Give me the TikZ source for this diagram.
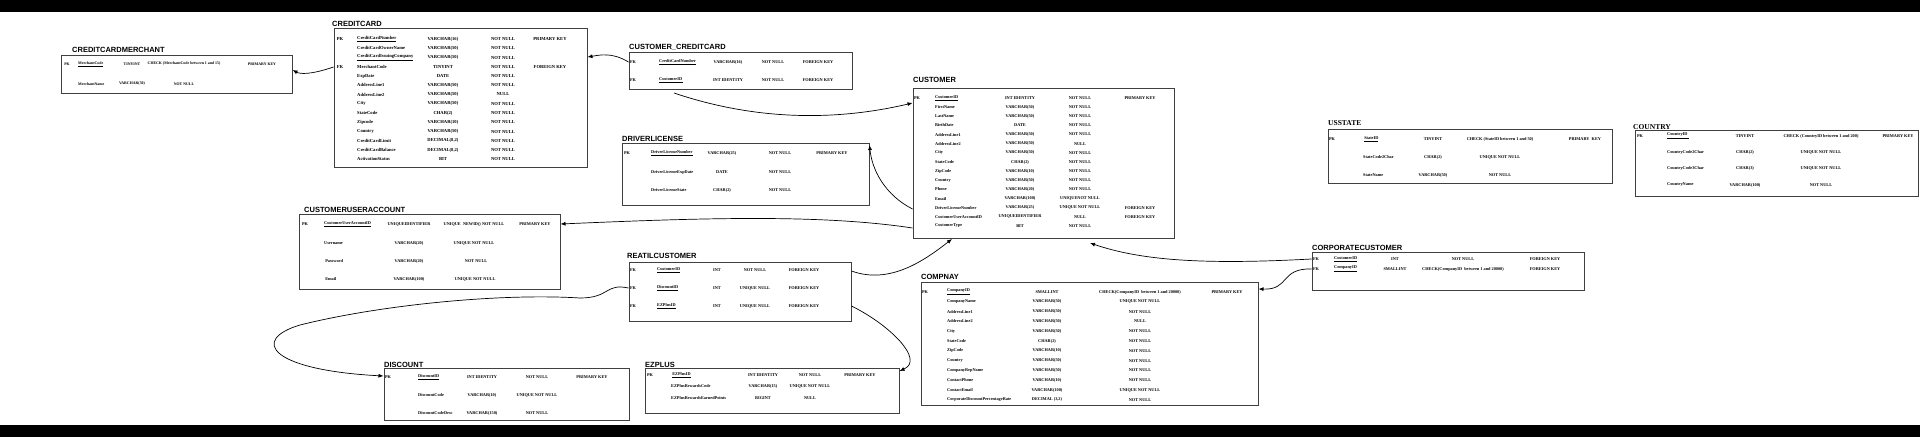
\documentclass[tikz,border=0pt]{standalone}
\usepackage{fontspec}
\setmainfont{Liberation Serif}
\newfontfamily\ttlfont{Liberation Sans}
\usetikzlibrary{arrows.meta,fit}
\tikzset{
  tbl/.style={draw=black!75,line width=1pt,inner sep=0pt},
  cell/.style={inner sep=0pt,font=\fontsize{4.3}{5}\selectfont\bfseries},
  ttl/.style={anchor=south west,inner sep=0pt,font=\ttlfont\fontsize{7.5}{8}\selectfont\bfseries},
  sttl/.style={anchor=south west,inner sep=0pt,font=\fontsize{7.5}{8}\selectfont\bfseries},
  conn/.style={draw=black,line width=0.7pt},
  arr/.style={conn,-{Latex[length=5pt,width=4pt]}}
}
\newcommand\tb[5]{\path (#2,#3) coordinate (#1-nw) (#4,#5) coordinate (#1-se);
  \node[tbl,fit=(#1-nw)(#1-se)] (#1) {};}
\newcommand\row[6]{\node[cell] at (\cA,#1) {#2};\node[cell,anchor=west] at (\cB,#1) {#3};
  \node[cell] at (\cC,#1) {#4};\node[cell] at (\cD,#1) {#5};\node[cell] at (\cE,#1) {#6};}
\newcommand\ul[1]{\underline{#1}}
\begin{document}
\begin{tikzpicture}[x=1pt,y=-1pt]
\useasboundingbox (0,0) rectangle (1920,437);
\fill[black] (0,0) rectangle (1920,437);
\fill[white] (0,12) rectangle (1920,425);

% CREDITCARDMERCHANT
\node[ttl] (tccm) at (72,53) {CREDITCARDMERCHANT};
\tb{ccm}{61}{55}{292}{93}
\def\cA{67}\def\cB{78}\def\cC{132}\def\cD{184}\def\cE{262}
\begin{scope}[cell/.append style={font=\fontsize{3.9}{4}\selectfont\bfseries}]
\row{64}{PK}{\ul{MerchantCode}}{TINYINT}{CHECK (MerchantCode between 1 and 15)}{PRIMARY KEY}
\row{84}{}{MerchantName}{VARCHAR(50)}{NOT NULL}{}
\end{scope}

% CREDITCARD
\node[ttl] (tcc) at (332,27) {CREDITCARD};
\tb{cc}{334}{28}{587}{167}
\def\cA{340}\def\cB{357}\def\cC{443}\def\cD{503}\def\cE{550}
\begin{scope}[cell/.append style={font=\fontsize{4.6}{5}\selectfont\bfseries}]
\row{39}{PK}{\ul{CreditCardNumber}}{VARCHAR(16)}{NOT NULL}{PRIMARY KEY}
\row{48.25}{}{CreditCardOwnerName}{VARCHAR(50)}{NOT NULL}{}
\row{57.5}{}{\ul{CreditCardIssuingCompany}}{VARCHAR(50)}{NOT NULL}{}
\row{66.75}{FK}{MerchantCode}{TINYINT}{NOT NULL}{FOREIGN KEY}
\row{76}{}{ExpDate}{DATE}{NOT NULL}{}
\row{85.25}{}{AddressLine1}{VARCHAR(50)}{NOT NULL}{}
\row{94.5}{}{AddressLine2}{VARCHAR(50)}{NULL}{}
\row{103.75}{}{City}{VARCHAR(50)}{NOT NULL}{}
\row{113}{}{StateCode}{CHAR(2)}{NOT NULL}{}
\row{122.25}{}{Zipcode}{VARCHAR(10)}{NOT NULL}{}
\row{131.5}{}{Country}{VARCHAR(50)}{NOT NULL}{}
\row{140.75}{}{CreditCardLimit}{DECIMAL(8,2)}{NOT NULL}{}
\row{150}{}{CreditCardBalance}{DECIMAL(8,2)}{NOT NULL}{}
\row{159.25}{}{ActivationStatus}{BIT}{NOT NULL}{}
\end{scope}

% CUSTOMER_CREDITCARD
\node[ttl] (tcucc) at (629,51) {CUSTOMER\_CREDITCARD};
\tb{cucc}{629}{52}{852}{89}
\def\cA{633}\def\cB{659}\def\cC{728}\def\cD{773}\def\cE{818}
\row{62}{FK}{\ul{CreditCardNumber}}{VARCHAR(16)}{NOT NULL}{FOREIGN KEY}
\row{80}{FK}{\ul{CustomerID }}{INT IDENTITY}{NOT NULL}{FOREIGN KEY}

% DRIVERLICENSE
\node[ttl] (tdl) at (622,142) {DRIVERLICENSE};
\tb{dl}{622}{143}{869}{205}
\def\cA{627}\def\cB{651}\def\cC{722}\def\cD{780}\def\cE{832}
\row{153}{PK}{\ul{DriverLicenseNumber}}{VARCHAR(25)}{NOT NULL}{PRIMARY KEY}
\row{172}{}{DriverLicenseExpDate}{DATE}{NOT NULL}{}
\row{190}{}{DriverLicenseState}{CHAR(2)}{NOT NULL}{}

% CUSTOMER
\node[ttl] (tcu) at (913,83) {CUSTOMER};
\tb{cu}{913}{88}{1174}{238}
\def\cA{917}\def\cB{935}\def\cC{1020}\def\cD{1080}\def\cE{1140}
\row{98}{PK}{\ul{CustomerID}}{INT IDENTITY}{NOT NULL}{PRIMARY KEY}
\row{107.14}{}{FirstName}{VARCHAR(50)}{NOT NULL}{}
\row{116.28}{}{LastName}{VARCHAR(50)}{NOT NULL}{}
\row{125.42}{}{BirthDate}{DATE}{NOT NULL}{}
\row{134.56}{}{AddressLine1}{VARCHAR(50)}{NOT NULL}{}
\row{143.7}{}{AddressLine2}{VARCHAR(50)}{NULL}{}
\row{152.84}{}{City}{VARCHAR(50)}{NOT NULL}{}
\row{161.98}{}{StateCode}{CHAR(2)}{NOT NULL}{}
\row{171.12}{}{ZipCode}{VARCHAR(10)}{NOT NULL}{}
\row{180.26}{}{Country}{VARCHAR(50)}{NOT NULL}{}
\row{189.4}{}{Phone}{VARCHAR(20)}{NOT NULL}{}
\row{198.54}{}{Email}{VARCHAR(100)}{UNIQUENOT NULL}{}
\row{207.68}{}{DriverLicenseNumber}{VARCHAR(25)}{UNIQUE NOT NULL}{FOREIGN KEY}
\row{216.82}{}{CustomerUserAccountID}{UNIQUEIDENTIFIER}{NULL}{FOREIGN KEY}
\row{225.96}{}{CustomerType}{BIT}{NOT NULL}{}

% USSTATE
\node[sttl] (tus) at (1328,126) {USSTATE};
\tb{us}{1328}{129}{1612}{183}
\def\cA{1332}\def\cB{1363}\def\cC{1433}\def\cD{1500}\def\cE{1585}
\row{139}{PK}{\ \ul{StateID}}{TINYINT}{CHECK (StateID between 1 and 50)}{PRIMARY\ \ KEY}
\row{157}{}{StateCode2Char}{CHAR(2)}{UNIQUE NOT NULL}{}
\row{175}{}{StateName}{VARCHAR(50)}{NOT NULL}{}

% COUNTRY
\node[sttl] (tco) at (1633,130) {COUNTRY};
\tb{co}{1635}{130}{1918}{196}
\def\cA{1640}\def\cB{1667}\def\cC{1745}\def\cD{1821}\def\cE{1898}
\row{136}{PK}{\ul{CountryID }}{TINYINT}{CHECK (CountryID between 1 and 200)}{PRIMARY KEY}
\row{152}{}{CountryCode2Char}{CHAR(2)}{UNIQUE NOT NULL}{}
\row{168}{}{CountryCode3Char}{CHAR(3)}{UNIQUE NOT NULL}{}
\row{185}{}{CountryName}{VARCHAR(100)}{NOT NULL}{}

% CUSTOMERUSERACCOUNT
\node[ttl] (tua) at (304,213) {CUSTOMERUSERACCOUNT};
\tb{ua}{299}{214}{560}{289}
\def\cA{305}\def\cB{324}\def\cC{409}\def\cD{474}\def\cE{535}
\row{224}{PK}{\ul{CustomerUserAccountID}}{UNIQUEIDENTIFIER}{UNIQUE\ \ NEWID() NOT NULL}{PRIMARY KEY}
\row{243}{}{Username}{VARCHAR(20)}{UNIQUE NOT NULL}{}
\row{261}{}{\ Password}{VARCHAR(20)}{\quad NOT NULL}{}
\row{279}{}{\ Email}{VARCHAR(100)}{\ \ UNIQUE NOT NULL}{}

% REATILCUSTOMER
\node[ttl] (trc) at (627,259) {REATILCUSTOMER};
\tb{rc}{629}{262}{851}{321}
\def\cA{633}\def\cB{657}\def\cC{717}\def\cD{755}\def\cE{804}
\row{270}{FK}{\ul{CustomerID}}{INT}{NOT NULL}{FOREIGN KEY}
\row{288}{FK}{\ul{DiscountID}}{INT}{UNIQUE NULL}{FOREIGN KEY}
\row{306}{FK}{\ul{EZPlusID}}{INT}{UNIQUE NULL}{FOREIGN KEY}

% CORPORATECUSTOMER
\node[ttl] (tcc2) at (1312,251) {CORPORATECUSTOMER};
\tb{crc}{1312}{252}{1584}{290}
\def\cA{1316}\def\cB{1334}\def\cC{1395}\def\cD{1463}\def\cE{1545}
\row{259}{FK}{\ul{CustomerID}}{INT}{NOT NULL}{FOREIGN KEY}
\row{269}{FK}{\ul{CompanyID}}{SMALLINT}{CHECK(CompanyID\ \ between 1 and 20000)}{FOREIGN KEY}

% COMPNAY
\node[ttl] (tcp) at (921,280) {COMPNAY};
\tb{cp}{921}{282}{1258}{405}
\def\cA{925}\def\cB{947}\def\cC{1047}\def\cD{1140}\def\cE{1227}
\row{292}{PK}{\ul{CompanyID}}{SMALLINT}{CHECK(CompanyID\ \ between 1 and 20000)}{PRIMARY KEY}
\row{301.8}{}{CompanyName}{VARCHAR(50)}{UNIQUE NOT NULL}{}
\row{311.6}{}{AddressLine1}{VARCHAR(50)}{NOT NULL}{}
\row{321.4}{}{AddressLine2}{VARCHAR(50)}{NULL}{}
\row{331.2}{}{City}{VARCHAR(50)}{NOT NULL}{}
\row{341}{}{StateCode}{CHAR(2)}{NOT NULL}{}
\row{350.8}{}{ZipCode}{VARCHAR(10)}{NOT NULL}{}
\row{360.6}{}{Country}{VARCHAR(50)}{NOT NULL}{}
\row{370.4}{}{CompanyRepName}{VARCHAR(50)}{NOT NULL}{}
\row{380.2}{}{ContactPhone}{VARCHAR(10)}{NOT NULL}{}
\row{390}{}{ContactEmail}{VARCHAR(100)}{UNIQUE NOT NULL}{}
\row{399.8}{}{CorporateDiscountPercentageRate}{DECIMAL (3,2)}{NOT NULL}{}

% DISCOUNT
\node[ttl] (tdi) at (384,368) {DISCOUNT};
\tb{di}{384}{368}{629}{420}
\def\cA{388}\def\cB{418}\def\cC{482}\def\cD{537}\def\cE{592}
\row{377}{PK}{\ul{DiscountID}}{INT IDENTITY}{NOT NULL}{PRIMARY KEY}
\row{395}{}{DiscountCode}{VARCHAR(10)}{UNIQUE NOT NULL}{}
\row{413}{}{DiscountCodeDesc}{VARCHAR(150)}{NOT NULL}{}

% EZPLUS
\node[ttl] (tez) at (645,368) {EZPLUS};
\tb{ez}{645}{368}{899}{413}
\def\cA{650}\def\cB{671}\def\cC{763}\def\cD{810}\def\cE{860}
\row{375}{PK}{\ \ul{EZPlusID}}{INT IDENTITY}{NOT NULL}{PRIMARY KEY}
\row{386}{}{EZPlusRewardsCode}{VARCHAR(15)}{UNIQUE NOT NULL}{}
\row{398}{}{EZPlusRewardsEarnedPoints}{BIGINT}{NULL}{}

% connectors
\draw[arr] (cc.west |- 0,67) .. controls (310,75) and (300,74) .. (ccm.east |- 0,70);
\draw[arr] (cucc.west |- 0,62) .. controls (612,52) and (600,55) .. (cc.east |- 0,57);
\draw[arr] (674,93) .. controls (760,122) and (840,120) .. (cu.west |- 0,103);
\draw[arr] (cu.west |- 0,209) .. controls (885,195) and (872,170) .. (dl.east |- 0,145);
\draw[arr] (cu.west |- 0,228) .. controls (820,214) and (700,218) .. (ua.east |- 0,224);
\draw[arr] (rc.east |- 0,271) .. controls (890,285) and (925,260) .. (952,239);
\draw[arr] (crc.west |- 0,259) .. controls (1200,265) and (1140,260) .. (1090,243);
\draw[arr] (crc.west |- 0,269) .. controls (1280,268) and (1290,290) .. (cp.east |- 0,289);
\draw[arr] (rc.east |- 0,306) .. controls (890,325) and (925,360) .. (ez.east |- 0,371);
\draw[arr] (rc.west |- 0,288) .. controls (605,283) and (610,298) .. (580,298)
  .. controls (500,293) and (380,305) .. (300,325)
  .. controls (250,340) and (270,370) .. (di.west |- 0,376);
\end{tikzpicture}
\end{document}
